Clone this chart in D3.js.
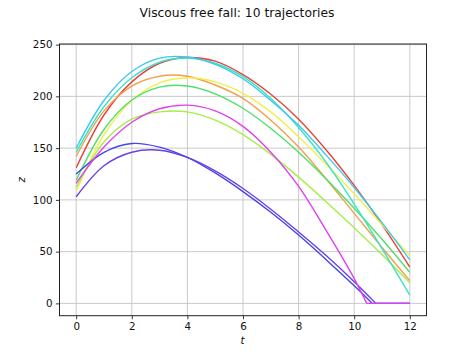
<!DOCTYPE html>
<html><head><meta charset="utf-8">
<script src="https://cdn.jsdelivr.net/npm/d3@7"></script>
<style>
body{margin:0;background:#fff}
svg{display:block}
text{font-family:"DejaVu Sans",sans-serif;fill:#111}
</style>
</head><body>
<svg id="c" width="474" height="355"></svg>
<script>
// ---- data ----
const chartTitle = "Viscous free fall: 10 trajectories";
const xLabel = "t";
const yLabel = "z";
const tGrid  = [0, 1, 2, 3, 4, 5, 6, 7, 8, 9, 10, 11, 12];
const xTicks = [0, 2, 4, 6, 8, 10, 12];
const yTicks = [0, 50, 100, 150, 200, 250];

const zRed       = [131, 182, 214, 232, 237.5, 234, 221, 202, 178, 148, 114, 76, 35];
const zOrange    = [142, 186, 210, 219.5, 219.5, 211, 198, 177, 151, 120, 87, 54, 22];
const zYellow    = [108, 163, 196, 213, 218, 214, 203, 185, 161, 134, 106, 76, 46];
const zLime      = [112, 156, 178, 185, 185, 177, 163, 144, 122, 98, 73, 47, 20];
const zGreen     = [119, 168, 196.5, 209, 210, 202.5, 188.5, 169, 146, 120, 92, 62, 30];
const zTurquoise = [146, 190, 218, 233, 237, 232, 219, 198, 170, 136, 96, 53, 8];
const zSky       = [150, 196, 224, 237, 238, 231, 217, 196, 172, 143, 112, 78, 42];
const zBlue      = [125, 146, 154.5, 151, 141, 126, 108, 88, 66, 42, 17];
const zViolet    = [103, 133, 146, 148, 141, 128, 111, 91, 69, 46, 21];
const zMagenta   = [116, 151, 175, 188, 191.5, 186, 171, 146, 113, 70, 24];
// time at which a trajectory reaches the ground (null = still airborne at t=12)
const impactTimes = [null, null, null, null, null, null, null, 10.65, 10.78, 10.45];

const allSeries = [zRed, zOrange, zYellow, zLime, zGreen, zTurquoise, zSky, zBlue, zViolet, zMagenta];
const colors = ["#e8423c", "#f2a04e", "#f2ee4a", "#a6ee48", "#4ee068", "#34e6c6", "#3ec8ea", "#4646ea", "#6a40e6", "#e040f0"];

// ---- layout ----
const L = 59.5, T = 44, PW = 367, PH = 271.7;
const svg = d3.select("#c");

const x = d3.scaleLinear().domain([-0.6, 12.6]).range([L, L + PW]);
const y = d3.scaleLinear().domain([-11.9, 250.6]).range([T + PH, T]);

// grid
const g = svg.append("g");
g.selectAll("line.vx").data(xTicks).enter().append("line")
  .attr("x1", d => x(d)).attr("x2", d => x(d)).attr("y1", T).attr("y2", T + PH)
  .attr("stroke", "#c4c4c4").attr("stroke-width", 0.9);
g.selectAll("line.hy").data(yTicks).enter().append("line")
  .attr("y1", d => y(d)).attr("y2", d => y(d)).attr("x1", L).attr("x2", L + PW)
  .attr("stroke", "#c4c4c4").attr("stroke-width", 0.9);

// lines
const line = d3.line().x(d => x(d[0])).y(d => y(d[1])).curve(d3.curveCatmullRom.alpha(0.5));
const flat = d3.line().x(d => x(d[0])).y(d => y(d[1]));
allSeries.forEach((zs, i) => {
  const pts = zs.map((z, k) => [tGrid[k], z]);
  const imp = impactTimes[i];
  if (imp != null) pts.push([imp, 0]);
  svg.append("path").attr("d", line(pts)).attr("fill", "none")
    .attr("stroke", colors[i]).attr("stroke-width", 1.4);
  if (imp != null) {
    svg.append("path").attr("d", flat([[imp, 0], [tGrid[tGrid.length - 1], 0]]))
      .attr("fill", "none").attr("stroke", colors[i]).attr("stroke-width", 1.4);
  }
});

// frame
svg.append("rect").attr("x", L).attr("y", T).attr("width", PW).attr("height", PH)
  .attr("fill", "none").attr("stroke", "#222").attr("stroke-width", 1);

// axes
const xa = svg.append("g").attr("transform", `translate(0,${T + PH})`)
  .call(d3.axisBottom(x).tickValues(xTicks).tickSize(3.6).tickSizeOuter(0).tickPadding(3.2));
const ya = svg.append("g").attr("transform", `translate(${L},0)`)
  .call(d3.axisLeft(y).tickValues(yTicks).tickSize(3.6).tickSizeOuter(0).tickPadding(3.4));
[xa, ya].forEach(a => {
  a.select(".domain").remove();
  a.selectAll(".tick line").attr("stroke", "#222").attr("stroke-width", 0.9);
  a.selectAll(".tick text").attr("font-family", "DejaVu Sans").attr("font-size", "10.3px").attr("fill", "#222");
});

// labels
svg.append("text").attr("x", 237).attr("y", 16.5).attr("text-anchor", "middle")
  .attr("font-size", "12.3px").text(chartTitle);
svg.append("text").attr("x", L + PW / 2 - 0.5).attr("y", 344).attr("text-anchor", "middle")
  .attr("font-size", "10.3px").attr("font-style", "italic").text(xLabel);
svg.append("text").attr("transform", `translate(24.5,${T + PH / 2}) rotate(-90)`)
  .attr("text-anchor", "middle").attr("font-size", "10.3px").attr("font-style", "italic").text(yLabel);
</script>
</body></html>
